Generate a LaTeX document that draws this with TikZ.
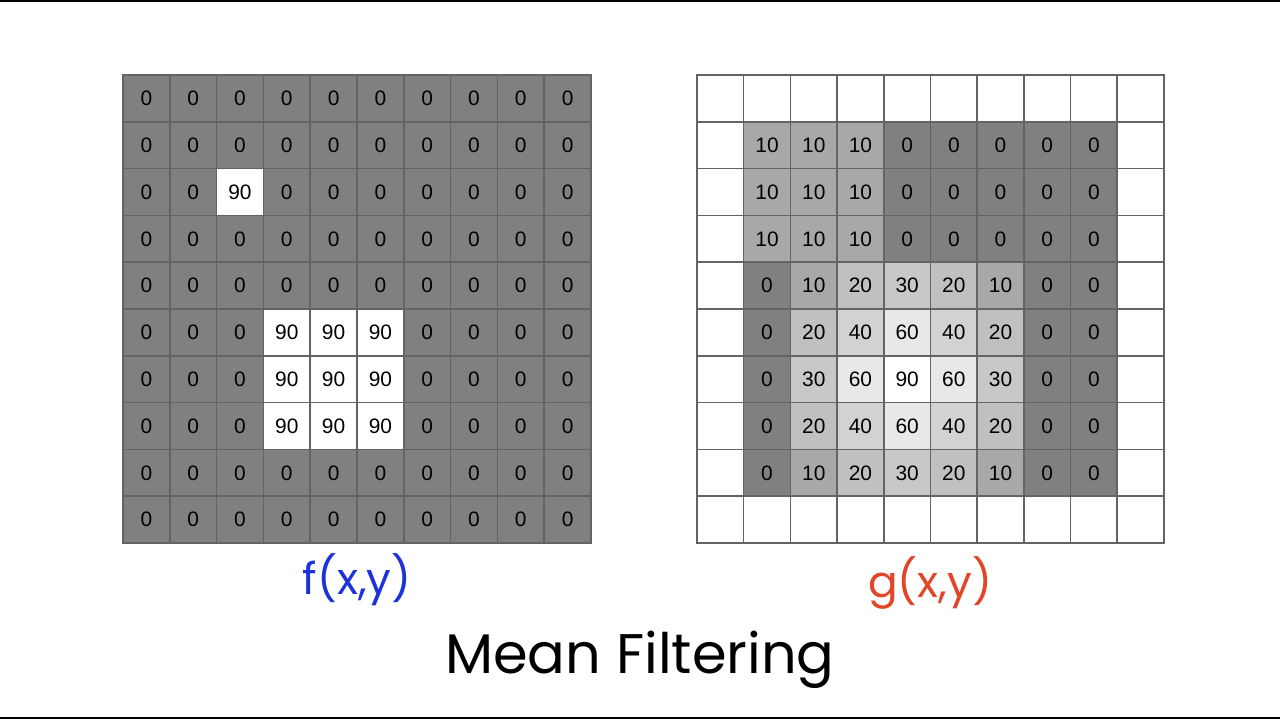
\documentclass[tikz,border=0pt]{standalone}
\usepackage{fontspec}
\setmainfont{Liberation Sans}
\newfontfamily\labfont{Poppins}
\definecolor{gr0}{RGB}{128,128,128}
\definecolor{gr10}{RGB}{168,168,168}
\definecolor{gr20}{RGB}{192,192,192}
\definecolor{gr30}{RGB}{200,200,200}
\definecolor{gr40}{RGB}{210,210,210}
\definecolor{gr60}{RGB}{232,232,232}
\definecolor{gr90}{RGB}{255,255,255}
\definecolor{grx}{RGB}{255,255,255}
\definecolor{grline}{RGB}{100,100,100}
\definecolor{fblue}{RGB}{30,50,220}
\definecolor{gred}{RGB}{225,70,40}
\def\myxx{x}
\tikzset{cellbox/.style={draw=grline,line width=1.6bp,minimum size=46.8bp,inner sep=0pt,font=\fontsize{21}{21}\selectfont}}
\begin{document}
\begin{tikzpicture}[x=1bp,y=-1bp]
\useasboundingbox (0,0) rectangle (1280,720);
\draw[line width=1.5bp] (0,0.8) -- (1280,0.8);
\draw[line width=1.5bp] (0,718) -- (1280,718);
% left grid
\foreach \r in {0,...,9}{
  \foreach \c in {0,...,9}{
    \pgfmathtruncatemacro{\v}{((\r==2 && \c==2) || (\r>=5 && \r<=7 && \c>=3 && \c<=5)) ? 90 : 0}
    \node[cellbox,fill=gr\v] (f\r\c) at ({123+46.8*(\c+0.5)},{75+46.8*(\r+0.5)}) {\v};
  }
}
% right grid
\foreach \r/\row in {
 0/{x,x,x,x,x,x,x,x,x,x},
 1/{x,10,10,10,0,0,0,0,0,x},
 2/{x,10,10,10,0,0,0,0,0,x},
 3/{x,10,10,10,0,0,0,0,0,x},
 4/{x,0,10,20,30,20,10,0,0,x},
 5/{x,0,20,40,60,40,20,0,0,x},
 6/{x,0,30,60,90,60,30,0,0,x},
 7/{x,0,20,40,60,40,20,0,0,x},
 8/{x,0,10,20,30,20,10,0,0,x},
 9/{x,x,x,x,x,x,x,x,x,x}}{
  \foreach \v [count=\ci from 0] in \row {
    \ifx\v\myxx\def\tv{}\else\let\tv\v\fi
    \node[cellbox,fill=gr\v] (g\r\ci) at ({697+46.7*(\ci+0.5)},{75+46.8*(\r+0.5)}) {\tv};
  }
}
\node[font=\labfont\fontsize{44}{44}\selectfont,text=fblue] (fl) at (357,580) {f(x,y)};
\node[font=\labfont\fontsize{44}{44}\selectfont,text=gred] (gl) at (930,583) {g(x,y)};
\node[font=\labfont\fontsize{56}{56}\selectfont] (title) at (640,660) {Mean Filtering};
\end{tikzpicture}
\end{document}
